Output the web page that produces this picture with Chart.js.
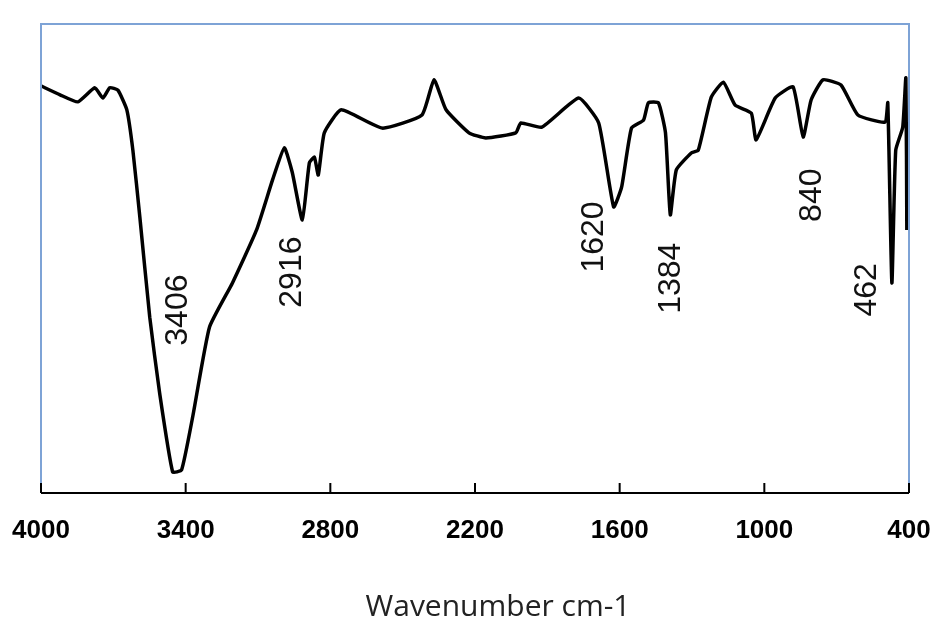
<!DOCTYPE html>
<html><head><meta charset="utf-8">
<script src="https://cdn.jsdelivr.net/npm/chart.js@4"></script>
<style>html,body{margin:0;padding:0;background:#fff}#w{width:933px;height:642px}</style>
</head><body><div id="w"><canvas id="c"></canvas></div>
<script>
const wavenumbers=[4000,3921,3847,3777,3743,3715,3681,3644,3619,3590,3549,3508,3454,3417,3371,3301,3206,3106,3040,2991,2958,2916,2887,2866,2850,2825,2755,2585,2420,2370,2320,2225,2155,2031,2010,1923,1770,1687,1625,1592,1551,1501,1481,1439,1410,1390,1365,1303,1274,1220,1170,1121,1054,1034,955,881,839,806,757,682,612,500,488,471,455,426,413,409];
const transmittance=[86.8,84.9,83.4,86.4,84.2,86.4,85.9,81.7,73.1,58.8,37.5,21.3,4.5,4.9,16.2,35.4,44.8,56.1,66.7,73.6,68.4,58.2,70.4,71.6,67.8,76.8,81.7,77.8,80.6,88.1,81.7,76.8,75.7,76.8,78.9,78.0,84.2,78.9,61.0,65.2,77.8,79.5,83.2,83.2,76.8,59.3,68.9,72.5,73.1,84.4,87.6,82.7,81.0,75.3,84.2,86.6,75.9,83.8,88.1,87.0,80.6,79.1,83.2,44.8,73.1,78.0,88.5,56.1];
const tickValues=[4000,3400,2800,2200,1600,1000,400];
const peakLabels=["3406","2916","1620","1384","840","462"];
const peakLabelX=[3433,2957,1704,1385,800,574];
const peakLabelY=[39.0,47.1,54.6,45.8,63.5,43.3];
const axisTitle="Wavenumber cm-1";

const frame={id:'frame',afterDraw(ch){
  const {ctx,chartArea:a,scales:{x,y}}=ch;
  ctx.save();
  ctx.strokeStyle='#7ea3d6';ctx.lineWidth=2;
  ctx.beginPath();ctx.moveTo(a.left,a.bottom);ctx.lineTo(a.left,a.top);ctx.lineTo(a.right,a.top);ctx.lineTo(a.right,a.bottom);ctx.stroke();
  ctx.strokeStyle='#000';ctx.lineWidth=2;
  ctx.beginPath();ctx.moveTo(a.left,a.bottom);ctx.lineTo(a.right,a.bottom);
  tickValues.forEach(v=>{const px=x.getPixelForValue(v);ctx.moveTo(px,a.bottom);ctx.lineTo(px,a.bottom-10);});
  ctx.stroke();
  ctx.fillStyle='#000';ctx.font='bold 26px "Liberation Sans", Arial, sans-serif';ctx.textAlign='center';ctx.textBaseline='middle';
  tickValues.forEach(v=>ctx.fillText(String(v),x.getPixelForValue(v),a.bottom+38));
  ctx.fillStyle='#222';ctx.font='30px "Open Sans", "Liberation Sans", sans-serif';
  ctx.fillText(axisTitle,a.left+457,a.bottom+114);
  ctx.fillStyle='#111';ctx.font='32px "Liberation Sans", Arial, sans-serif';
  peakLabels.forEach((t,i)=>{ctx.save();ctx.translate(x.getPixelForValue(peakLabelX[i]),y.getPixelForValue(peakLabelY[i]));ctx.rotate(-Math.PI/2);ctx.fillText(t,0,0);ctx.restore();});
  ctx.restore();
}};

new Chart(document.getElementById('c'),{
  type:'line',
  data:{datasets:[{data:wavenumbers.map((w,i)=>({x:w,y:transmittance[i]})),borderColor:'#000',borderWidth:3.5,pointRadius:0,tension:0.15,fill:false}]},
  options:{responsive:true,maintainAspectRatio:false,animation:false,
    layout:{padding:{left:41,right:24,top:24,bottom:149}},
    plugins:{legend:{display:false},tooltip:{enabled:false}},
    scales:{
      x:{type:'linear',reverse:true,min:400,max:4000,afterBuildTicks(s){s.ticks=tickValues.map(v=>({value:v}));},
        grid:{display:false,drawTicks:false},border:{display:false},
        ticks:{display:false},title:{display:false}},
      y:{min:0,max:100,display:false}
    }}
  ,plugins:[frame]});
</script></body></html>
